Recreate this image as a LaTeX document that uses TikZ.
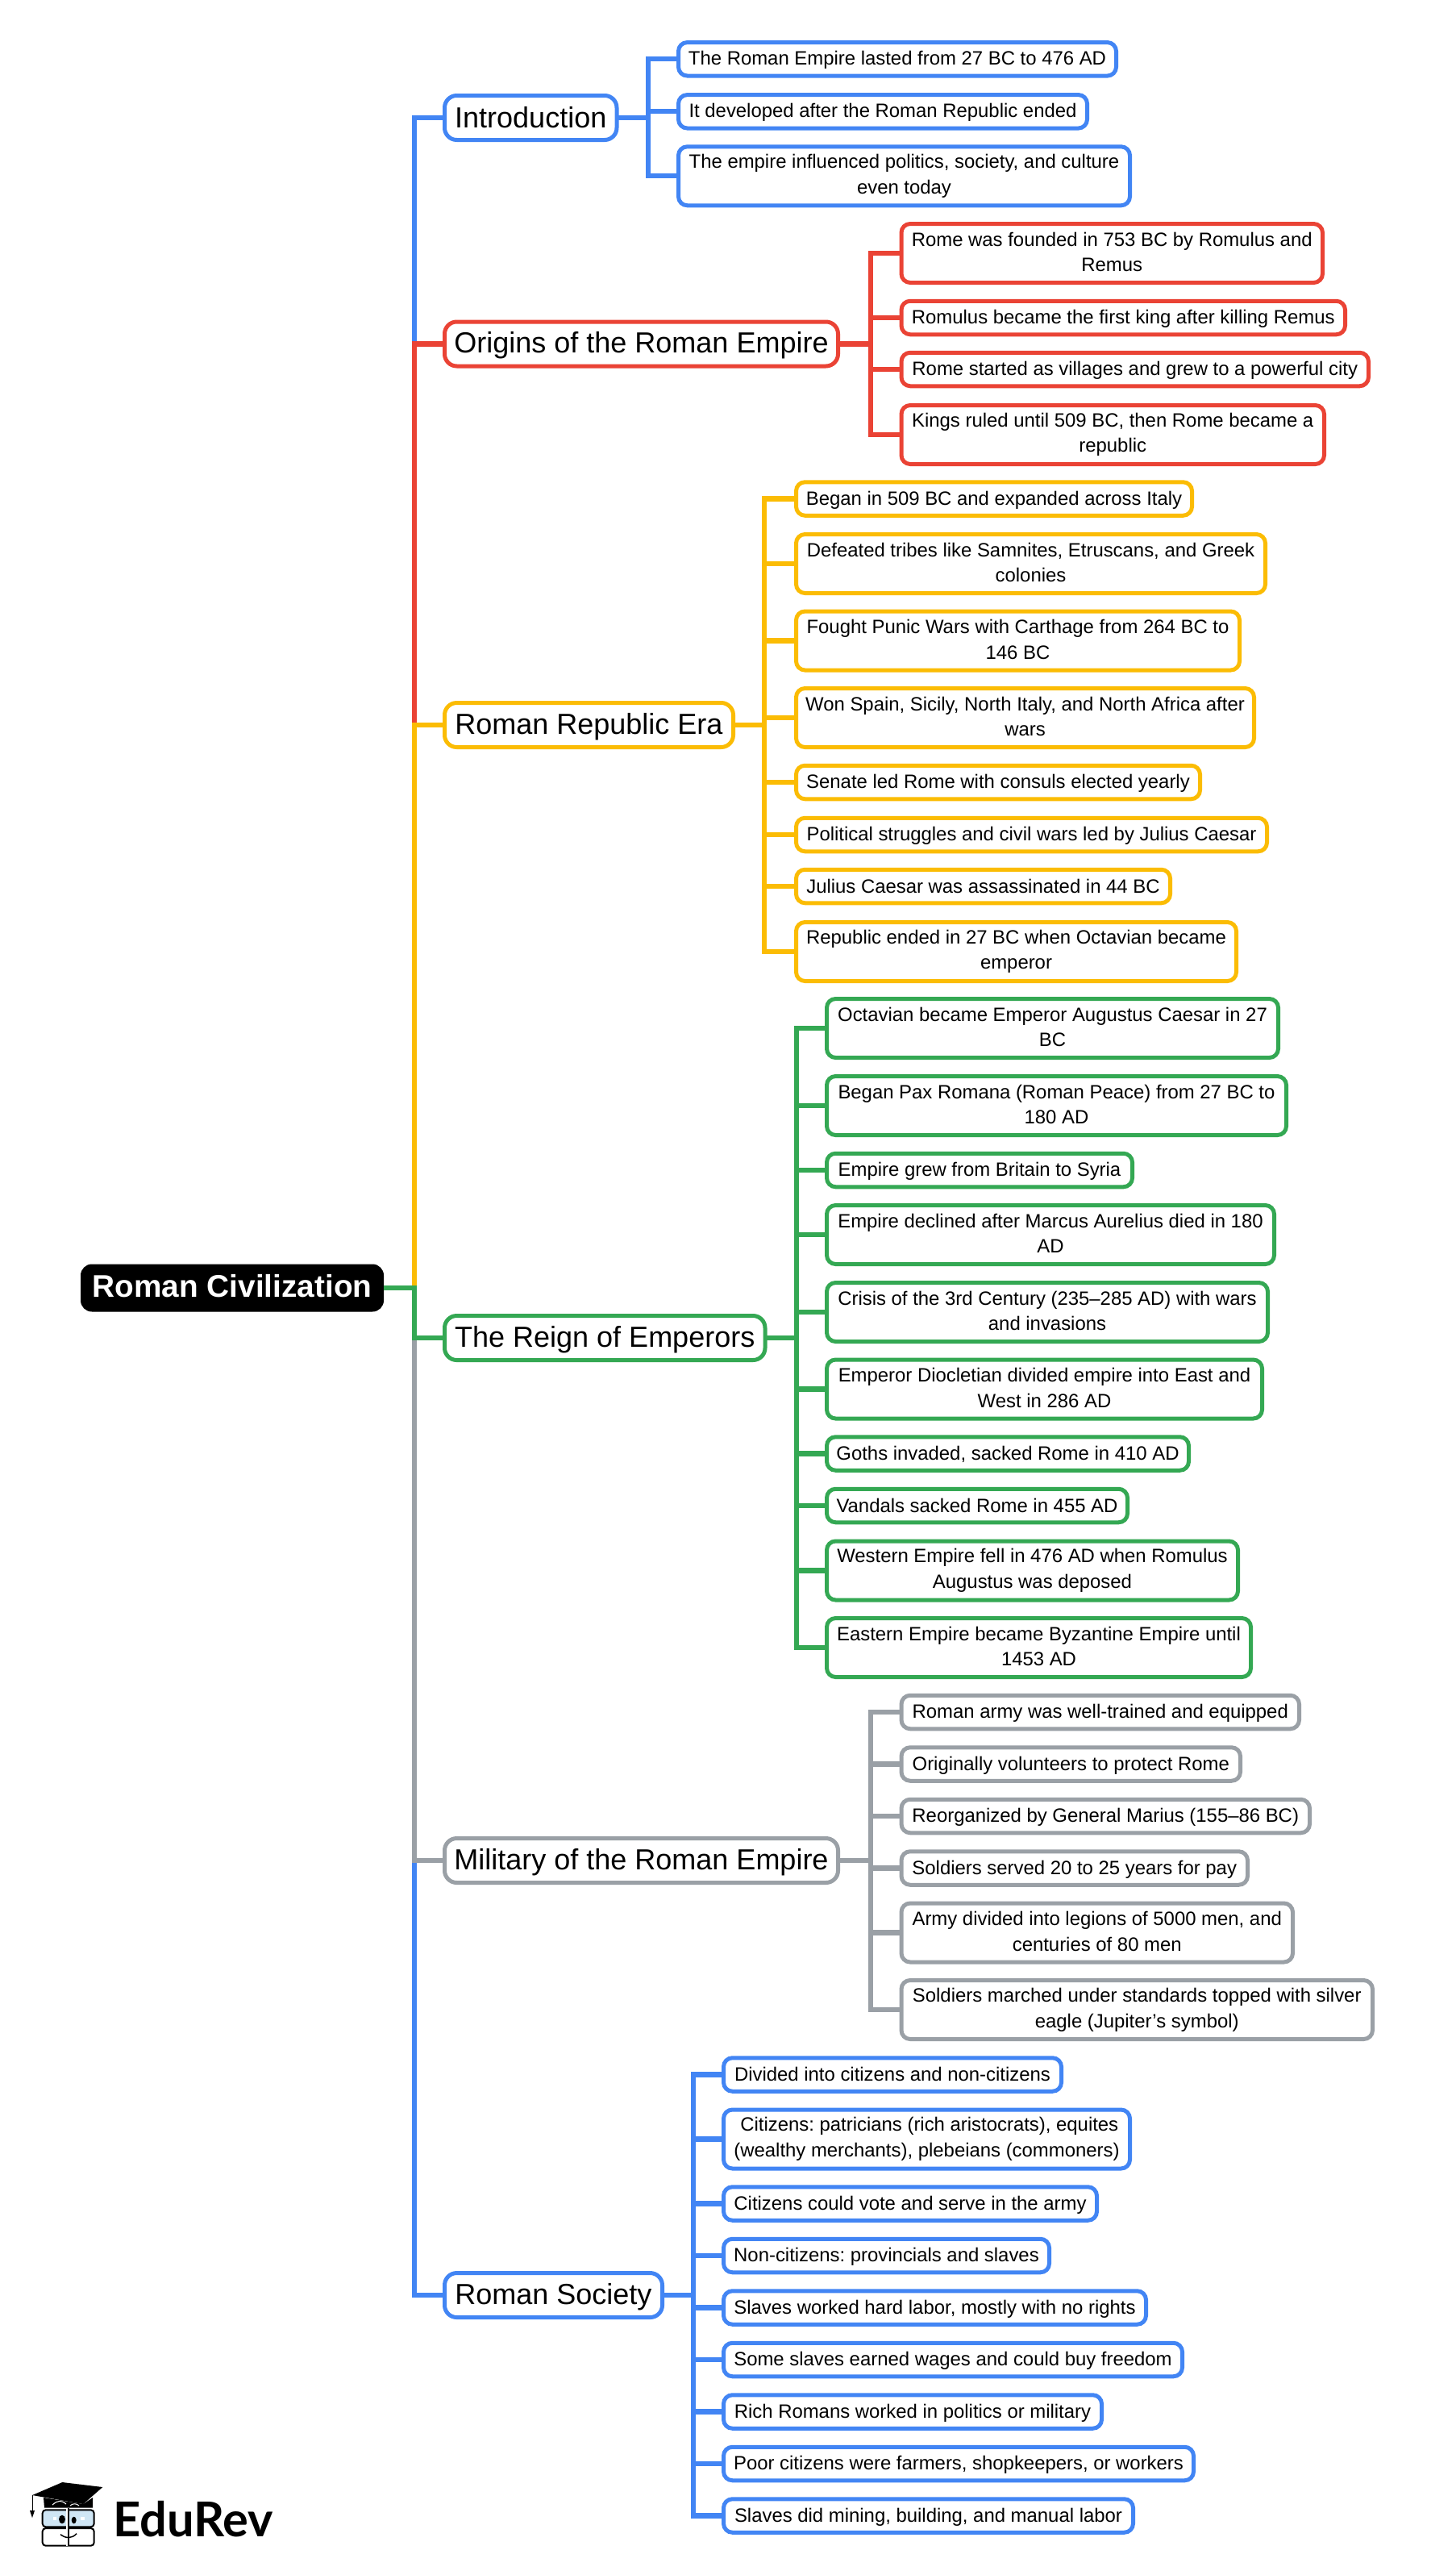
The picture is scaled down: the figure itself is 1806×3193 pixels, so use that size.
\documentclass[tikz,border=0pt]{standalone}
\usepackage{fontspec}
\setmainfont{Liberation Sans}
\newfontfamily\logofont{Lato}
\usetikzlibrary{shapes.geometric}
\frenchspacing
\definecolor{mapblue}{HTML}{4285F4}
\definecolor{mapred}{HTML}{EA4335}
\definecolor{mapyellow}{HTML}{FBBC04}
\definecolor{mapgreen}{HTML}{34A853}
\definecolor{mapgray}{HTML}{9AA0A6}
\definecolor{bookblue}{HTML}{CFE6F5}
\newcommand{\leafstrut}{\rule[-3.7pt]{0pt}{24pt}}
\newcommand{\topstrut}{\rule[-6pt]{0pt}{36pt}}
\newcommand{\rootstrut}{\rule[-6pt]{0pt}{35pt}}
\tikzset{
    rootbox/.style={fill=black,text=white,rounded corners=14pt,inner sep=0pt,outer sep=0pt,
        minimum width=376pt,minimum height=59pt,font=\fontsize{38.8}{46}\selectfont\bfseries,
        execute at begin node=\rootstrut},
    topbox/.style={draw=#1,fill=white,line width=5pt,rounded corners=15pt,inner sep=0pt,outer sep=0pt,
        anchor=west,minimum height=55pt,font=\fontsize{36}{44}\selectfont,
        execute at begin node=\topstrut},
    leafbox/.style={draw=#1,fill=white,line width=5pt,rounded corners=11pt,inner sep=0pt,outer sep=0pt,
        anchor=west,align=center,minimum height=41.5pt,font=\fontsize{23.9}{31.6}\selectfont,
        execute at begin node=\leafstrut,execute at end node=\leafstrut},
    twolines/.style={minimum height=73pt},
    link/.style={draw=#1,line width=6.2pt}
}
\begin{document}
\begin{tikzpicture}[x=1pt,y=-1pt]
    \useasboundingbox (0,0) rectangle (1806,3193);

    % root
    \node[rootbox] (root) at (288,1597) {Roman Civilization};

    % main branches
    \node[topbox=mapblue,minimum width=213.5pt] (intro) at (551.5,146) {Introduction};
    \node[topbox=mapred,minimum width=488pt] (origins) at (551.5,426.5) {Origins of the Roman Empire};
    \node[topbox=mapyellow,minimum width=358pt] (republic) at (551.5,899) {Roman Republic Era};
    \node[topbox=mapgreen,minimum width=397.5pt] (reign) at (551.5,1659) {The Reign of Emperors};
    \node[topbox=mapgray,minimum width=488pt] (military) at (551.5,2307) {Military of the Roman Empire};
    \node[topbox=mapblue,minimum width=270pt] (society) at (551.5,2846) {Roman Society};

    % introduction
    \node[leafbox=mapblue,minimum width=543pt] (intro1) at (841.5,73.3) {The Roman Empire lasted from 27 BC to 476 AD};
    \node[leafbox=mapblue,minimum width=507pt] (intro2) at (841.5,138.3) {It developed after the Roman Republic ended};
    \node[leafbox=mapblue,twolines,minimum width=560pt] (intro3) at (841.5,218.3) {The empire influenced politics, society, and culture\\even today};

    % origins
    \node[leafbox=mapred,twolines,minimum width=522.5pt] (origins1) at (1118,314) {Rome was founded in 753 BC by Romulus and\\Remus};
    \node[leafbox=mapred,minimum width=550.5pt] (origins2) at (1118,394) {Romulus became the first king after killing Remus};
    \node[leafbox=mapred,minimum width=579.5pt] (origins3) at (1118,458) {Rome started as villages and grew to a powerful city};
    \node[leafbox=mapred,twolines,minimum width=524.5pt] (origins4) at (1118,539) {Kings ruled until 509 BC, then Rome became a\\republic};

    % republic
    \node[leafbox=mapyellow,minimum width=491pt] (republic1) at (987.5,618.5) {Began in 509 BC and expanded across Italy};
    \node[leafbox=mapyellow,twolines,minimum width=582pt] (republic2) at (987.5,699) {Defeated tribes like Samnites, Etruscans, and Greek\\colonies};
    \node[leafbox=mapyellow,twolines,minimum width=550pt] (republic3) at (987.5,794.5) {Fought Punic Wars with Carthage from 264 BC to\\146 BC};
    \node[leafbox=mapyellow,twolines,minimum width=568pt] (republic4) at (987.5,890) {Won Spain, Sicily, North Italy, and North Africa after\\wars};
    \node[leafbox=mapyellow,minimum width=501pt] (republic5) at (987.5,970) {Senate led Rome with consuls elected yearly};
    \node[leafbox=mapyellow,minimum width=584pt] (republic6) at (987.5,1035) {Political struggles and civil wars led by Julius Caesar};
    \node[leafbox=mapyellow,minimum width=464pt] (republic7) at (987.5,1099) {Julius Caesar was assassinated in 44 BC};
    \node[leafbox=mapyellow,twolines,minimum width=546pt] (republic8) at (987.5,1180) {Republic ended in 27 BC when Octavian became\\emperor};

    % emperors
    \node[leafbox=mapgreen,twolines,minimum width=560pt] (reign1) at (1025.5,1275) {Octavian became Emperor Augustus Caesar in 27\\BC};
    \node[leafbox=mapgreen,twolines,minimum width=570pt] (reign2) at (1025.5,1371) {Began Pax Romana (Roman Peace) from 27 BC to\\180 AD};
    \node[leafbox=mapgreen,minimum width=379pt] (reign3) at (1025.5,1451) {Empire grew from Britain to Syria};
    \node[leafbox=mapgreen,twolines,minimum width=555pt] (reign4) at (1025.5,1531) {Empire declined after Marcus Aurelius died in 180\\AD};
    \node[leafbox=mapgreen,twolines,minimum width=547pt] (reign5) at (1025.5,1627) {Crisis of the 3rd Century (235–285 AD) with wars\\and invasions};
    \node[leafbox=mapgreen,twolines,minimum width=540pt] (reign6) at (1025.5,1722.5) {Emperor Diocletian divided empire into East and\\West in 286 AD};
    \node[leafbox=mapgreen,minimum width=449pt] (reign7) at (1025.5,1802.5) {Goths invaded, sacked Rome in 410 AD};
    \node[leafbox=mapgreen,minimum width=373pt] (reign8) at (1025.5,1867) {Vandals sacked Rome in 455 AD};
    \node[leafbox=mapgreen,twolines,minimum width=510pt] (reign9) at (1025.5,1947.5) {Western Empire fell in 476 AD when Romulus\\Augustus was deposed};
    \node[leafbox=mapgreen,twolines,minimum width=526pt] (reign10) at (1025.5,2043) {Eastern Empire became Byzantine Empire until\\1453 AD};

    % military
    \node[leafbox=mapgray,minimum width=493.5pt] (military1) at (1118,2123) {Roman army was well-trained and equipped};
    \node[leafbox=mapgray,minimum width=420.5pt] (military2) at (1118,2187.5) {Originally volunteers to protect Rome};
    \node[leafbox=mapgray,minimum width=506.5pt] (military3) at (1118,2252) {Reorganized by General Marius (155–86 BC)};
    \node[leafbox=mapgray,minimum width=429.5pt] (military4) at (1118,2316.5) {Soldiers served 20 to 25 years for pay};
    \node[leafbox=mapgray,twolines,minimum width=485.5pt] (military5) at (1118,2396.5) {Army divided into legions of 5000 men, and\\centuries of 80 men};
    \node[leafbox=mapgray,twolines,minimum width=584.5pt] (military6) at (1118,2492) {Soldiers marched under standards topped with silver\\eagle (Jupiter's symbol)};

    % society
    \node[leafbox=mapblue,minimum width=419pt] (society1) at (897.5,2572.5) {Divided into citizens and non-citizens};
    \node[leafbox=mapblue,twolines,minimum width=504pt] (society2) at (897.5,2652.5) {\ Citizens: patricians (rich aristocrats), equites\\(wealthy merchants), plebeians (commoners)};
    \node[leafbox=mapblue,minimum width=463pt] (society3) at (897.5,2732.5) {Citizens could vote and serve in the army};
    \node[leafbox=mapblue,minimum width=404pt] (society4) at (897.5,2797) {Non-citizens: provincials and slaves};
    \node[leafbox=mapblue,minimum width=524pt] (society5) at (897.5,2861.5) {Slaves worked hard labor, mostly with no rights};
    \node[leafbox=mapblue,minimum width=569pt] (society6) at (897.5,2926) {Some slaves earned wages and could buy freedom};
    \node[leafbox=mapblue,minimum width=469pt] (society7) at (897.5,2990.5) {Rich Romans worked in politics or military};
    \node[leafbox=mapblue,minimum width=583pt] (society8) at (897.5,3055) {Poor citizens were farmers, shopkeepers, or workers};
    \node[leafbox=mapblue,minimum width=508pt] (society9) at (897.5,3119.5) {Slaves did mining, building, and manual labor};

    % bus points
    \coordinate (rootbus) at (513.7,1597);
    \coordinate (introbus) at (804,146);
    \coordinate (originsbus) at (1080,426.5);
    \coordinate (republicbus) at (948,899);
    \coordinate (reignbus) at (988,1659);
    \coordinate (militarybus) at (1080,2307);
    \coordinate (societybus) at (860,2846);

    % connectors from the root, the last one on top
    \draw[link=mapblue] (root.east) -- (rootbus) |- (intro.west);
    \draw[link=mapred] (root.east) -- (rootbus) |- (origins.west);
    \draw[link=mapyellow] (root.east) -- (rootbus) |- (republic.west);
    \draw[link=mapblue] (root.east) -- (rootbus) |- (society.west);
    \draw[link=mapgray] (root.east) -- (rootbus) |- (military.west);
    \draw[link=mapgreen] (root.east) -- (rootbus) |- (reign.west);

    % connectors to the leaves
    \foreach \i in {1,...,3} \draw[link=mapblue] (intro.east) -- (introbus) |- (intro\i.west);
    \foreach \i in {1,...,4} \draw[link=mapred] (origins.east) -- (originsbus) |- (origins\i.west);
    \foreach \i in {1,...,8} \draw[link=mapyellow] (republic.east) -- (republicbus) |- (republic\i.west);
    \foreach \i in {1,...,10} \draw[link=mapgreen] (reign.east) -- (reignbus) |- (reign\i.west);
    \foreach \i in {1,...,6} \draw[link=mapgray] (military.east) -- (militarybus) |- (military\i.west);
    \foreach \i in {1,...,9} \draw[link=mapblue] (society.east) -- (societybus) |- (society\i.west);

    % logo
    \draw[fill=white,line width=2pt,rounded corners=4pt] (52.7,3135) rectangle (116.7,3156.7);
    \draw[fill=bookblue,line width=2pt,rounded corners=4pt] (52.7,3112.3) rectangle (116.7,3133.3);
    \fill (54,3097) -- (55,3109.5) -- (115,3109.5) -- (115,3097) -- (103.3,3105) -- cycle;
    \fill (40,3094) -- (77.3,3078) -- (127.3,3084) -- (103.3,3105) -- cycle;
    \draw[white,line width=1pt] (65,3106) .. controls (72,3100) and (76,3100) .. (82,3105);
    \draw[white,line width=1pt] (87,3107) .. controls (90,3104) and (95,3104) .. (98,3107);
    \draw[line width=1pt] (40,3094) -- (40,3113);
    \fill (37,3113) -- (43,3113) -- (40,3122) -- cycle;
    \draw[white,line width=4pt] (84,3110) -- (84,3157);
    \draw[line width=2pt] (85,3110) -- (85,3157);
    \fill (77,3124) ellipse (4pt and 5.3pt);
    \fill (91.7,3125) ellipse (3pt and 4.3pt);
    \fill[white] (65.5,3121) rectangle (70,3125);
    \fill[white] (100,3121) rectangle (104.5,3125);
    \draw[line width=1.5pt] (75,3142.7) .. controls (82,3148) and (89,3148) .. (95,3141.7);
    \node[anchor=base west,inner sep=0pt,font=\logofont\bfseries\fontsize{59.5}{60}\selectfont] (edurev) at (140,3145) {EduRev};
\end{tikzpicture}
\end{document}
